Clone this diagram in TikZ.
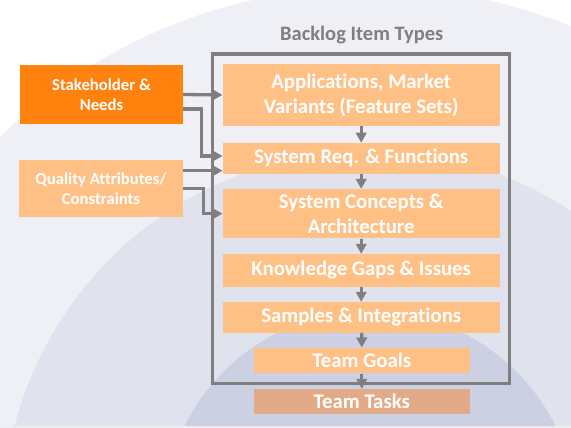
\documentclass[tikz,border=0pt]{standalone}
\usepackage{fontspec}
\setmainfont{Carlito}[Ligatures=NoCommon]
\usetikzlibrary{arrows.meta}
\definecolor{bgA}{HTML}{EFF0F5}
\definecolor{bgB}{HTML}{E0E2ED}
\definecolor{bgC}{HTML}{CCD0E3}
\definecolor{bgStrip}{HTML}{ECEDF3}
\definecolor{darkor}{HTML}{FF820F}
\definecolor{lightor}{HTML}{FFC086}
\definecolor{tasktan}{HTML}{E2AA87}
\definecolor{linegray}{HTML}{7F7F7F}
\tikzset{
  box/.style={fill=lightor, draw=none, inner sep=0pt, align=center, text=white,
    font=\bfseries\fontsize{20.8}{25}\selectfont},
  widebox/.style={box, minimum width=277pt},
  sidebox/.style={box, font=\bfseries\fontsize{16.7}{20}\selectfont},
  arr/.style={draw=linegray, line width=3.3pt,
    -{Triangle[length=10pt,width=10.5pt]}},
  frame/.style={draw=linegray, line width=3.3pt},
  titletext/.style={text=linegray, font=\bfseries\fontsize{20.5}{25}\selectfont}
}
\begin{document}
\begin{tikzpicture}[x=1pt,y=-1pt]
\useasboundingbox (0,0) rectangle (571,428);
% background
\fill[white] (0,0) rectangle (571,428);
\begin{scope}
  \clip (0,0) rectangle (571,425.5);
  \fill[bgA] (370,518) circle[radius=531pt];
  \fill[bgB] (370,518) circle[radius=367pt];
  \fill[bgC] (370,518) circle[radius=207pt];
\end{scope}
\fill[bgStrip] (0,425.5) rectangle (571,428);
% title and frame
\node[titletext] (title) at (361.7,35) {Backlog Item Types};
\draw[frame] (212.5,54) rectangle (509.8,383.3);
% side boxes
\node[sidebox, fill=darkor, minimum width=163pt, minimum height=59pt] (stake) at (101.5,94.5) {Stakeholder \&\\Needs};
\node[sidebox, minimum width=164pt, minimum height=56.7pt] (qual) at (101,188.3) {Quality Attributes/\\Constraints};
% backlog boxes
\node[widebox, minimum height=61.4pt] (app) at (361.2,95) {Applications, Market\\Variants (Feature Sets)};
\node[widebox, minimum height=30.7pt] (req) at (361.2,158.3) {System Req. \& Functions};
\node[widebox, minimum height=49.3pt] (conc) at (361.2,213.7) {System Concepts \&\\Architecture};
\node[widebox, minimum height=32.7pt] (know) at (361.2,270.3) {Knowledge Gaps \& Issues};
\node[widebox, minimum height=30.7pt] (samp) at (361.2,317.3) {Samples \& Integrations};
\node[box, minimum width=216pt, minimum height=25.6pt] (goals) at (361.8,360.5) {Team Goals};
\node[box, fill=tasktan, minimum width=216pt, minimum height=25.3pt] (tasks) at (361.8,401.7) {Team Tasks};
% vertical arrows
\draw[arr] (app.south) -- (req.north);
\draw[arr] (req.south) -- (conc.north);
\draw[arr] (conc.south) -- (know.north);
\draw[arr] (know.south) -- (samp.north);
\draw[arr] ([xshift=0.5pt]samp.south) -- (goals.north);
\draw[arr] (goals.south) -- (tasks.north);
% input arrows
\draw[arr] (stake.east) -- (app.west);
\draw[arr] ([yshift=-14.5pt]stake.east) -- ++(18,0) |- ([yshift=2.3pt]req.west);
\draw[arr] ([yshift=17.6pt]qual.east) -- ([yshift=-12.4pt]req.west);
\draw[arr] (qual.east) -- ++(20,0) |- (conc.west);
\end{tikzpicture}
\end{document}
